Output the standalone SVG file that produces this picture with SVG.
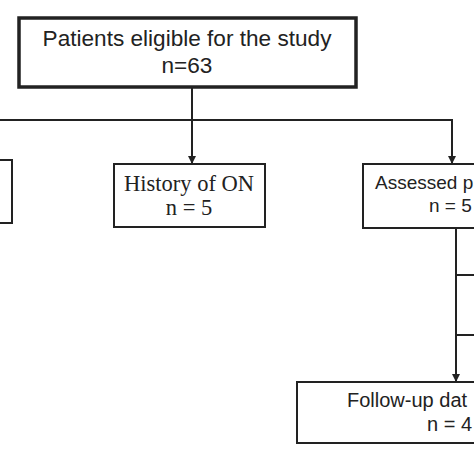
<svg xmlns="http://www.w3.org/2000/svg" width="474" height="474" viewBox="0 0 474 474">
<style>
.box{fill:#fff;stroke:#222;stroke-width:2}
.thick{stroke-width:3.5}
.sans{font-family:"Liberation Sans",Arial,sans-serif;fill:#222}
.serif{font-family:"Liberation Serif","Times New Roman",serif;fill:#222}
.ln{fill:none;stroke:#222;stroke-width:2}
</style>
<defs>
<marker id="ah" viewBox="0 0 8 8" refX="8" refY="4" markerWidth="8" markerHeight="8" markerUnits="userSpaceOnUse" orient="auto">
<path d="M0,0 L8,4 L0,8 z" fill="#222"/>
</marker>
</defs>
<rect width="474" height="474" fill="#fff"/>
<g id="connectors">
<line class="ln" x1="192" y1="87" x2="192" y2="164" marker-end="url(#ah)"/>
<polyline class="ln" points="0,120 452,120 452,164" marker-end="url(#ah)"/>
<line class="ln" x1="456" y1="228" x2="456" y2="382" marker-end="url(#ah)"/>
<line class="ln" x1="456" y1="275" x2="474" y2="275"/>
<line class="ln" x1="456" y1="335" x2="474" y2="335"/>
</g>
<g id="eligible">
<rect class="box thick" x="19" y="18" width="337" height="69"/>
<text class="sans" x="187" y="46" font-size="22.6" text-anchor="middle">Patients eligible for the study</text>
<text class="sans" x="187" y="73" font-size="22.6" text-anchor="middle">n=63</text>
</g>
<g id="left-box">
<rect class="box" x="-10" y="160" width="22" height="63"/>
</g>
<g id="history">
<rect class="box" x="114" y="164" width="151" height="63"/>
<text class="serif" x="189" y="191" font-size="22.5" text-anchor="middle">History of ON</text>
<text class="serif" x="189" y="215" font-size="22.5" text-anchor="middle">n = 5</text>
</g>
<g id="assessed">
<rect class="box" x="363" y="164" width="120" height="64"/>
<text class="sans" x="375" y="189" font-size="19">Assessed p</text>
<text class="sans" x="429" y="212" font-size="19">n = 5</text>
</g>
<g id="followup">
<rect class="box" x="297" y="382" width="190" height="61"/>
<text class="sans" x="347" y="407" font-size="20">Follow-up dat</text>
<text class="sans" x="427" y="431" font-size="20">n = 4</text>
</g>
</svg>
